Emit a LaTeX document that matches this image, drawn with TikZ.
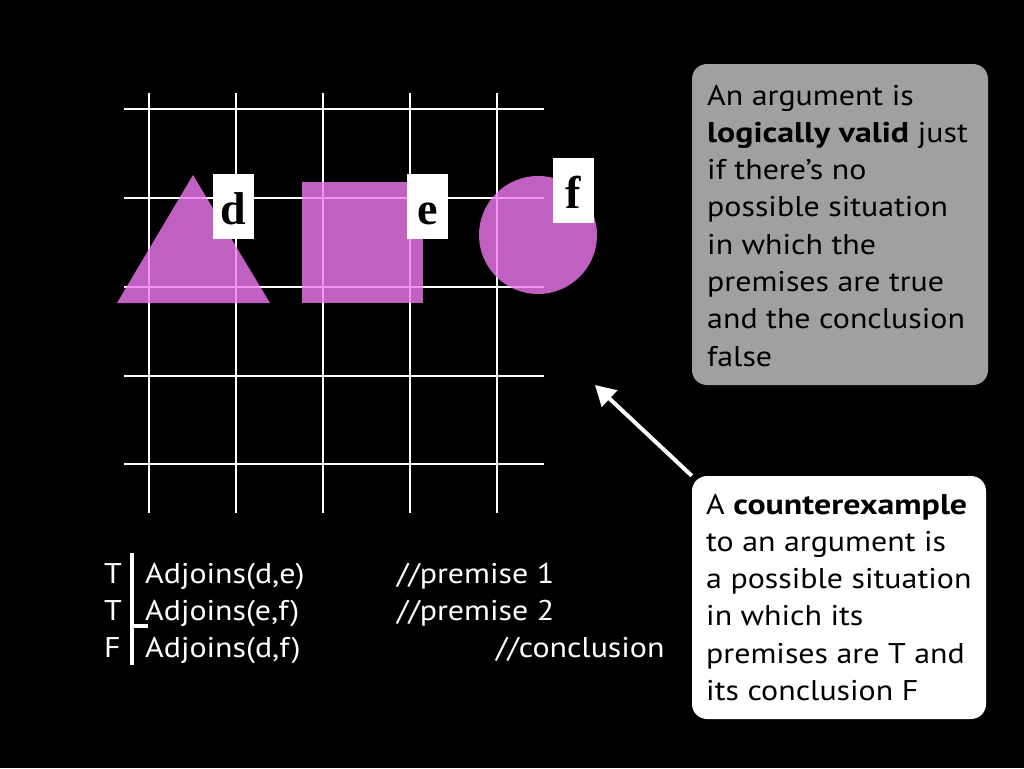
\documentclass[tikz,border=0pt]{standalone}
\usepackage{fontspec}
\setmainfont{PT Sans}[FakeStretch=1.12, BoldFeatures={FakeStretch=1.19}]
\newfontfamily\letterfont{Liberation Serif}
\usetikzlibrary{positioning, arrows.meta}
\definecolor{shapefill}{RGB}{240,120,240}
\definecolor{validgray}{RGB}{160,160,160}

\tikzset{
    gridline/.style={white, line width=2pt},
    blob/.style={fill=shapefill, fill opacity=0.8},
    namebox/.style={fill=white, inner sep=0pt, minimum width=41pt, minimum height=65pt,
        text height=35pt, text depth=0pt, font=\letterfont\bfseries\fontsize{46}{46}\selectfont},
    infobox/.style={rounded corners=15pt, inner sep=0pt},
    bodytext/.style={inner sep=0pt, anchor=base west, font=\fontsize{28.5}{37.3}\selectfont}
}

\begin{document}
\begin{tikzpicture}[x=1pt, y=-1pt]
    % Sfondo
    \fill[black] (0,0) rectangle (1024,768);
    \useasboundingbox (0,0) rectangle (1024,768);

    % Griglia
    \foreach \gx in {149, 236, 323, 410, 497}
        \draw[gridline] (\gx, 93) -- (\gx, 513);
    \foreach \gy in {109, 198, 287, 376, 464}
        \draw[gridline] (124, \gy) -- (544, \gy);

    % Figure
    \fill[blob] (193,175) -- (270,303) -- (117,303) -- cycle; % triangolo
    \fill[blob] (302,182) rectangle (423,303); % quadrato
    \fill[blob] (538,235) circle (59); % cerchio

    % Etichette
    \node[namebox] (labd) at (233.5,206.5) {d};
    \node[namebox] (labe) at (427.5,206.5) {e};
    \node[namebox] (labf) at (573,190.5) {f};

    % Riquadro grigio
    \node[infobox, fill=validgray, minimum width=296pt, minimum height=321pt] (validbox) at (840,224.5) {};
    \node[bodytext, text=black] (validtext) at (707,105) {\begin{tabular}[t]{@{}l@{}}
        An argument is\\
        \textbf{logically valid} just\\
        if there’s no\\
        possible situation\\
        in which the\\
        premises are true\\
        and the conclusion\\
        false
    \end{tabular}};

    % Riquadro bianco
    \node[infobox, fill=white, minimum width=294pt, minimum height=243pt] (cexbox) at (839,597.5) {};
    \node[bodytext, text=black] (cextext) at (706,514) {\begin{tabular}[t]{@{}l@{}}
        A \textbf{counterexample}\\
        to an argument is\\
        a possible situation\\
        in which its\\
        premises are T and\\
        its conclusion F
    \end{tabular}};

    % Freccia
    \coordinate (target) at (595,385);
    \draw[white, line width=4pt, -{Triangle[length=20pt, width=22pt]}] (cexbox.north west) -- (target);

    % Argomento
    \node[bodytext, text=white] (truth) at (104,583) {\begin{tabular}[t]{@{}l@{}}T\\T\\F\end{tabular}};
    \node[bodytext, text=white] (formulas) at (145,583) {\begin{tabular}[t]{@{}l@{}}
        Adjoins(d,e)\\
        Adjoins(e,f)\\
        Adjoins(d,f)
    \end{tabular}};
    \node[bodytext, text=white] (comments) at (397,583) {\begin{tabular}[t]{@{}l@{}}
        //premise 1\\
        //premise 2\\
        \hspace*{99pt}//conclusion
    \end{tabular}};
    \draw[white, line width=4pt] (132,553) -- (132,665);
    \draw[white, line width=4pt] (132,626) -- (148,626);

\end{tikzpicture}
\end{document}
